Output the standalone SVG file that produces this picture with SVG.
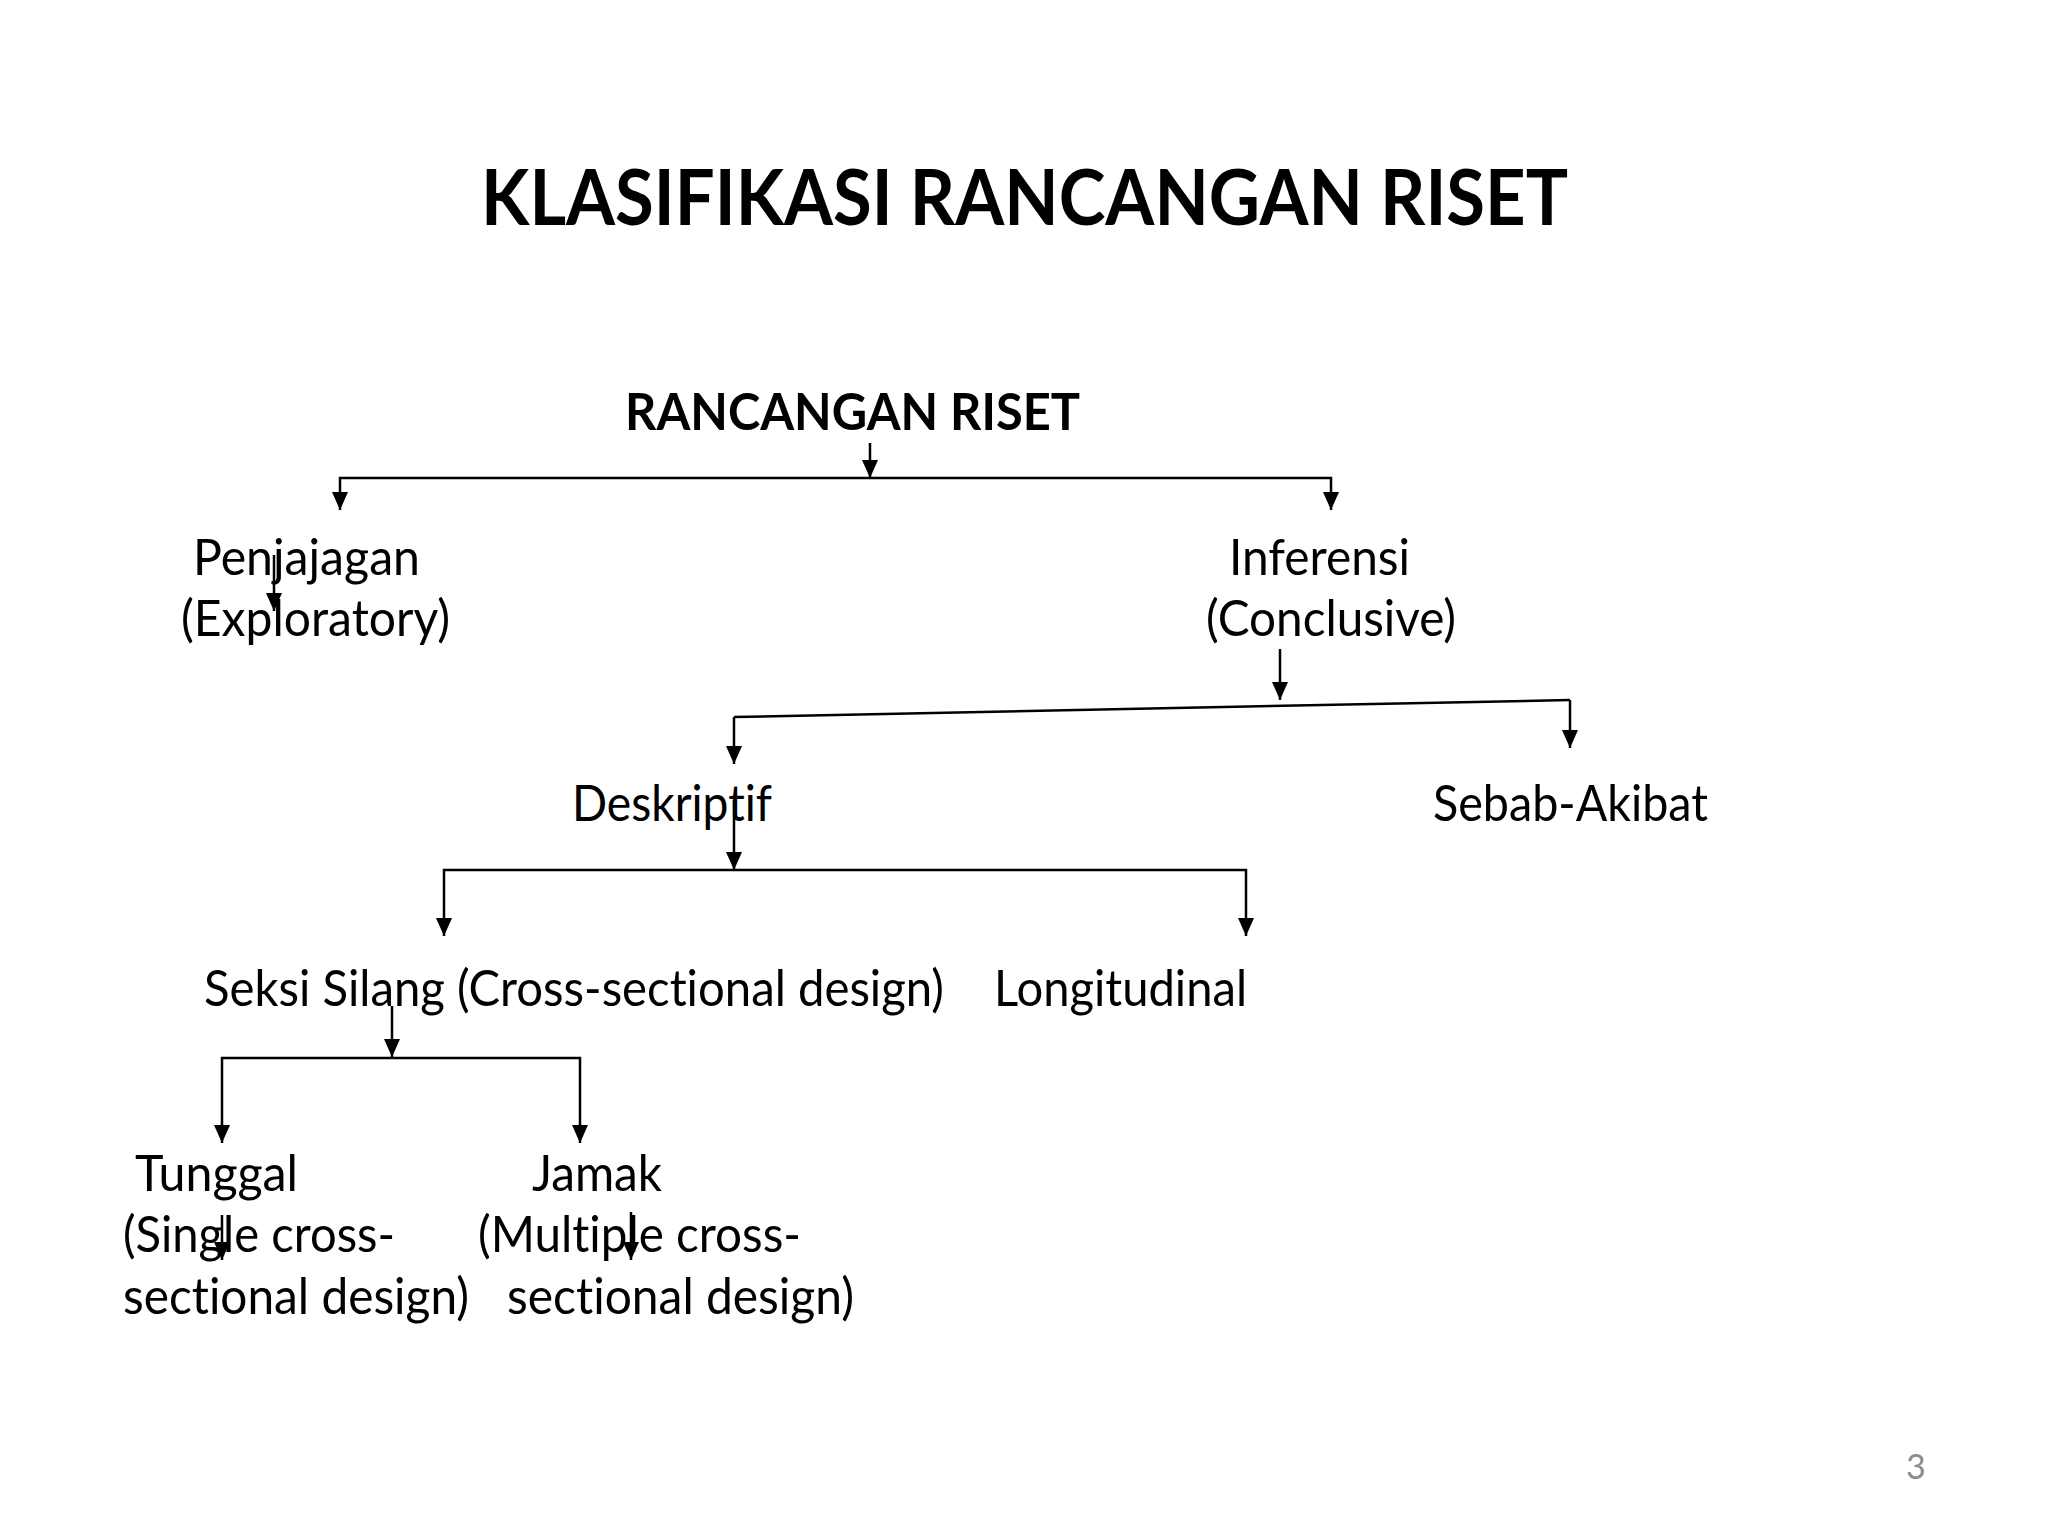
<svg xmlns="http://www.w3.org/2000/svg" width="2048" height="1536" viewBox="0 0 2048 1536">
<style>
text{font-family:Lato,"Open Sans","Liberation Sans",sans-serif;fill:#000;font-variant-ligatures:none}
.t{font-size:49.5px}
.b{font-weight:bold}
.c{fill:none;stroke:#000;stroke-width:2.5}
.a{marker-end:url(#arr)}
</style>
<defs>
<marker id="arr" markerUnits="userSpaceOnUse" markerWidth="20" markerHeight="18" refX="18" refY="8" orient="auto">
<path d="M0,0 L18,8 L0,16 z" fill="#000"/>
</marker>
</defs>
<rect width="2048" height="1536" fill="#fff"/>
<g id="title"><text class="b" x="481" y="225" font-size="76" textLength="1087" lengthAdjust="spacingAndGlyphs">KLASIFIKASI RANCANGAN RISET</text></g>
<g id="connectors">
<path class="c a" d="M870,443 V478"/>
<path class="c a" d="M870,478 H340 V510"/>
<path class="c a" d="M870,478 H1331 V510"/>
<path class="c a" d="M274,555 V611"/>
<path class="c a" d="M1280,649 V700"/>
<path class="c" d="M734,717 L1570,700"/>
<path class="c a" d="M734,717 V764"/>
<path class="c a" d="M1570,700 V748"/>
<path class="c a" d="M734,800 V870"/>
<path class="c a" d="M734,870 H444 V936"/>
<path class="c a" d="M734,870 H1246 V936"/>
<path class="c a" d="M392,1006 V1057"/>
<path class="c a" d="M392,1058 H222 V1143"/>
<path class="c a" d="M392,1058 H580 V1143"/>
<path class="c a" d="M222,1215 V1260"/>
<path class="c a" d="M631,1212 V1260"/>
</g>
<g id="root"><text class="b" x="625" y="430" font-size="52.5" textLength="455" lengthAdjust="spacingAndGlyphs">RANCANGAN RISET</text></g>
<g id="penjajagan">
<text class="t" x="193" y="575" textLength="227" lengthAdjust="spacingAndGlyphs">Penjajagan</text>
<text class="t" x="181" y="636" textLength="269" lengthAdjust="spacingAndGlyphs">(Exploratory)</text>
</g>
<g id="inferensi">
<text class="t" x="1229" y="575" textLength="181" lengthAdjust="spacingAndGlyphs">Inferensi</text>
<text class="t" x="1206" y="636" textLength="250" lengthAdjust="spacingAndGlyphs">(Conclusive)</text>
</g>
<g id="deskriptif"><text class="t" x="572" y="821" textLength="200" lengthAdjust="spacingAndGlyphs">Deskriptif</text></g>
<g id="sebab"><text class="t" x="1433" y="821" textLength="275" lengthAdjust="spacingAndGlyphs">Sebab-Akibat</text></g>
<g id="seksi"><text class="t" x="204" y="1006" textLength="740" lengthAdjust="spacingAndGlyphs">Seksi Silang (Cross-sectional design)</text></g>
<g id="longitudinal"><text class="t" x="994" y="1006" textLength="253" lengthAdjust="spacingAndGlyphs">Longitudinal</text></g>
<g id="tunggal">
<text class="t" x="135" y="1191" textLength="163" lengthAdjust="spacingAndGlyphs">Tunggal</text>
<text class="t" x="123" y="1252" textLength="272" lengthAdjust="spacingAndGlyphs">(Single cross-</text>
<text class="t" x="123" y="1314" textLength="346" lengthAdjust="spacingAndGlyphs">sectional design)</text>
</g>
<g id="jamak">
<text class="t" x="532" y="1191" textLength="130" lengthAdjust="spacingAndGlyphs">Jamak</text>
<text class="t" x="478" y="1252" textLength="323" lengthAdjust="spacingAndGlyphs">(Multiple cross-</text>
<text class="t" x="507" y="1314" textLength="347" lengthAdjust="spacingAndGlyphs">sectional design)</text>
</g>
<g id="page"><text x="1906" y="1479" font-size="34" style="fill:#8c8c8c">3</text></g>
</svg>
